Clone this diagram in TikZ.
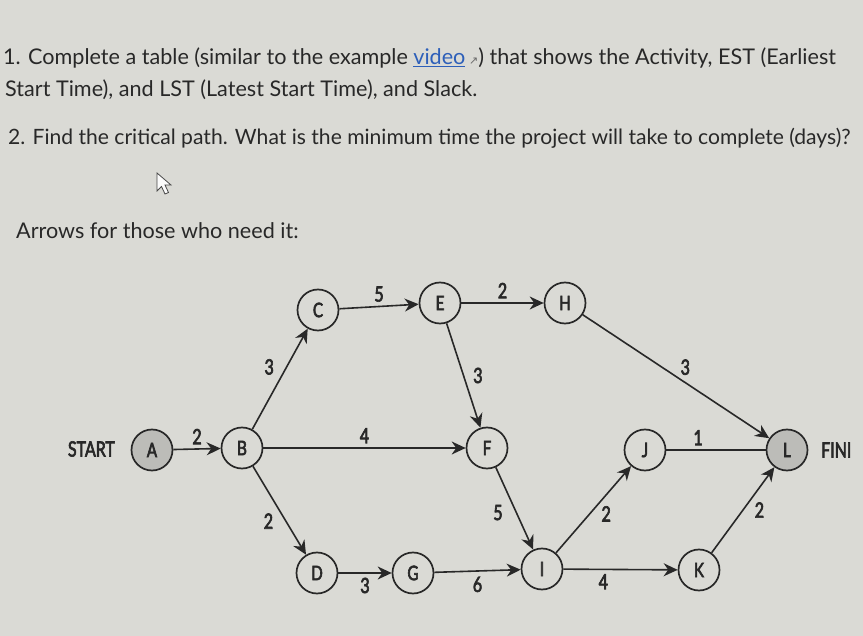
\documentclass[tikz,border=0pt]{standalone}
\usepackage{fontspec}
\setmainfont{Lato}
\newfontfamily\netfont{Lato}[FakeStretch=0.76, FakeBold=3]
\newfontfamily\symfont{DejaVu Sans}
\usepackage{tikz}
\usetikzlibrary{arrows.meta}

\definecolor{screen}{RGB}{218,218,213}
\definecolor{ink}{RGB}{40,40,40}
\definecolor{link}{RGB}{45,95,185}
\definecolor{shade}{RGB}{188,188,184}

\tikzset{
  prose/.style={anchor=base west, inner sep=0pt, text=ink, font=\fontsize{21.6}{21.6}\selectfont},
  event/.style={circle, minimum size=41pt, inner sep=0pt, draw=ink, line width=1.7pt, text=ink, font=\netfont\fontsize{20}{20}\selectfont},
  act/.style={draw=ink, line width=1.6pt, -{Stealth[length=14pt,width=13pt]}},
  dur/.style={text=ink, inner sep=1pt, font=\netfont\fontsize{21}{21}\selectfont}
}

\begin{document}
\begin{tikzpicture}[x=1pt, y=-1pt]
 \fill[screen] (0,0) rectangle (863,636);
 \useasboundingbox (0,0) rectangle (863,636);
 % question text
 \node [prose] (q1a) at (3,65)   {1. Complete a table (similar to the example {\color{link}\underline{video}}\,{\symfont\fontsize{11}{11}\selectfont\color{ink!70}↗}) that shows the Activity, EST (Earliest};
 \node [prose] (q1b) at (5,97)   {Start Time), and LST (Latest Start Time), and Slack.};
 \node [prose, font=\fontsize{21.1}{21.1}\selectfont] (q2) at (8,145) {2. Find the critical path. What is the minimum time the project will take to complete (days)?};
 \node [prose] (arw) at (16,239) {Arrows for those who need it:};
 % mouse pointer
 \draw [ink!85, line width=0.8pt, fill=white!90!screen] (157,173) -- (157,191) -- (161.5,186.5) -- (165,194) -- (168.5,192.5) -- (165,185) -- (171,185) -- cycle;
 % network
 \node [event, fill=shade] (A) at (152,450) {A};
 \node [event]             (B) at (242,448) {B};
 \node [event]             (C) at (318,310) {C};
 \node [event]             (D) at (317,573) {D};
 \node [event]             (E) at (440,303) {E};
 \node [event]             (G) at (413,573) {G};
 \node [event]             (H) at (565,303) {H};
 \node [event]             (F) at (487,448) {F};
 \node [event]             (I) at (542,569) {I};
 \node [event]             (J) at (645,450) {J};
 \node [event]             (K) at (699,570) {K};
 \node [event, fill=shade] (L) at (787,450) {L};
 \node [dur, anchor=east] (start)  at (116,449) {START};
 \node [dur, anchor=west] (finish) at (820,450) {FINI};
  \draw [act] (A) -- node [dur, above=3pt] {2} (B);
  \draw [act] (B) -- node [dur, pos=0.62, left=11pt] {3} (C);
  \draw [act] (B) -- node [dur, pos=0.5, above=3pt] {4} (F);
  \draw [act] (B) -- node [dur, pos=0.62, left=11pt] {2} (D);
  \draw [act] (C) -- node [dur, above=3pt] {5} (E);
  \draw [act] (D) -- node [dur, below=3pt] {3} (G);
  \draw [act] (E) -- node [dur, above=3pt] {2} (H);
  \draw [act] (E) -- node [dur, pos=0.5, right=8pt] {3} (F);
  \draw [act] (F) -- node [dur, pos=0.55, left=12pt] {5} (I);
  \draw [act] (G) -- node [dur, below=4pt] {6} (I);
  \draw [act] (I) -- node [dur, pos=0.45, right=10pt] {2} (J);
  \draw [act] (I) -- node [dur, pos=0.35, below=3pt] {4} (K);
  \draw [draw=ink, line width=1.6pt] (J) -- node [dur, pos=0.32, above=3pt] {1} (L);
  \draw [act] (H) -- node [dur, pos=0.55, above=6pt] {3} (L);
  \draw [act] (K) -- node [dur, pos=0.5, right=10pt] {2} (L);
\end{tikzpicture}
\end{document}
